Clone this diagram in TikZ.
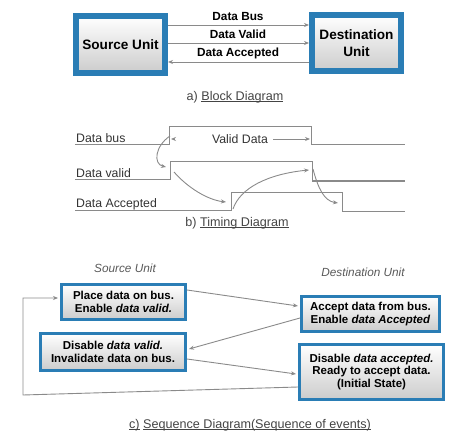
\documentclass[tikz,border=0pt]{standalone}
\usepackage{fontspec}
\setmainfont{Liberation Sans}
\usetikzlibrary{arrows.meta,shadows}
\definecolor{boxblue}{HTML}{2A7DB5}
\definecolor{lgray}{HTML}{8A8A8A}
\definecolor{tgray}{HTML}{333333}
\definecolor{cgray}{HTML}{444444}
\newcommand\uln[1]{\setbox0\hbox{#1}\rlap{\rule[-1.6pt]{\wd0}{0.5pt}}\box0\relax}
\tikzset{
  bigbox/.style={draw=boxblue, line width=6pt, top color=white, bottom color=black!20,
    minimum width=89pt, minimum height=57pt, inner sep=0pt, align=center,
    font=\fontsize{13.6}{16.5}\selectfont\bfseries,
    drop shadow={opacity=0.25, shadow xshift=1pt, shadow yshift=-1.5pt}},
  seqbox/.style={draw=boxblue, line width=3pt, top color=white, bottom color=black!20,
    inner sep=0pt, align=center,
    font=\fontsize{11.5}{12.5}\selectfont\bfseries,
    drop shadow={opacity=0.25, shadow xshift=1pt, shadow yshift=-1.5pt}},
  conn/.style={draw=lgray, line width=0.9pt, -{Stealth[length=5pt,width=4pt]}},
  sig/.style={draw=lgray, line width=1pt},
  blabel/.style={font=\fontsize{11.8}{14}\selectfont\bfseries, inner sep=0pt},
  tlabel/.style={font=\fontsize{12.3}{14}\selectfont, text=tgray, inner sep=0pt},
  caption/.style={font=\fontsize{12.6}{14}\selectfont, text=cgray, inner sep=0pt},
  head/.style={font=\fontsize{11.8}{14}\selectfont\itshape, text=black!65, inner sep=0pt},
}
\begin{document}
\begin{tikzpicture}[x=1pt,y=-1pt]
\useasboundingbox (0,0) rectangle (474,433);
% ---------- a) Block diagram
\node[bigbox] (src) at (120.5,44.5) {Source Unit};
\node[bigbox, minimum height=56pt] (dst) at (356.5,43) {Destination\\Unit};
\draw[conn] (src.east |- 0,25) -- (dst.west |- 0,25);
\draw[conn] (src.east |- 0,43) -- (dst.west |- 0,43);
\draw[conn] (dst.west |- 0,62) -- (src.east |- 0,62);
\node[blabel] (lbus) at (238,17) {Data Bus};
\node[blabel] (lval) at (238,34.5) {Data Valid};
\node[blabel] (lacc) at (238,53.5) {Data Accepted};
\node[caption] (capa) at (235,97) {a) \uln{Block Diagram}};
% ---------- b) Timing diagram
\draw[sig] (75,145) -- (169,145) -- (169,127) -- (311,127) -- (311,145) -- (405,145);
\draw[sig] (75,180) -- (170,180) -- (170,162) -- (312,162) -- (312,181) -- (405,181);
\draw[sig] (75,210) -- (231,210) -- (231,192) -- (342,192) -- (342,211) -- (405,211);
\node[tlabel, anchor=base west] (tbus) at (76,142.5) {Data bus};
\node[tlabel, anchor=base west] (tval) at (76,177.5) {Data valid};
\node[tlabel, anchor=base west] (tacc) at (76,207.5) {Data Accepted};
\node[tlabel] (vd) at (240,139) {Valid Data};
\coordinate (vdl) at (171,139);
\coordinate (vdr) at (310,139);
\draw[conn] ([xshift=-37pt]vd.west) -- (vdl);
\draw[conn] ([xshift=5pt]vd.east) -- (vdr);
\coordinate (e1s) at (170,136);
\coordinate (e1e) at (166,167);
\coordinate (e2s) at (174,172);
\coordinate (e2e) at (226,202);
\coordinate (e3s) at (233,209);
\coordinate (e3e) at (309,170);
\coordinate (e4s) at (313,169);
\coordinate (e4e) at (338,203);
\draw[conn] (e1s) .. controls (155,146) and (153,164) .. (e1e);
\draw[conn] (e2s) .. controls (188,188) and (208,200) .. (e2e);
\draw[conn] (e3s) .. controls (240,188) and (268,174) .. (e3e);
\draw[conn] (e4s) .. controls (318,188) and (324,201) .. (e4e);
\node[caption] (capb) at (237,223) {b) \uln{Timing Diagram}};
% ---------- c) Sequence diagram
\node[head] (hsrc) at (125,268) {Source Unit};
\node[head] (hdst) at (363,272) {Destination Unit};
\node[seqbox, minimum width=124pt, minimum height=35pt] (b1) at (123.5,302)
  {Place data on bus.\\Enable \textit{data valid.}};
\node[seqbox, minimum width=138pt, minimum height=35pt] (b2) at (370.5,314)
  {Accept data from bus.\\Enable \textit{data Accepted}};
\node[seqbox, minimum width=145pt, minimum height=37pt] (b3) at (113,352)
  {Disable \textit{data valid.}\\Invalidate data on bus.};
\node[seqbox, minimum width=144pt, minimum height=55pt] (b4) at (371.5,372)
  {Disable \textit{data accepted.}\\Ready to accept data.\\(Initial State)};
\draw[conn] (b1.east |- 0,290) -- ([xshift=-2pt]b2.west |- 0,306);
\draw[conn] (b2.west |- 0,318) -- ([xshift=2pt]b3.east |- 0,349);
\draw[conn] (b3.east |- 0,359) -- ([xshift=-2pt]b4.west |- 0,374);
\coordinate (lb) at (23,395);
\coordinate (lt) at (23,298);
\draw[conn] (b4.west |- 0,387) -- (lb) -- (lt) -- ([xshift=-2pt]b1.west |- 0,298);
\node[caption] (capc) at (250,425) {\uln{c)}\ \uln{Sequence Diagram(Sequence of events)}};
\end{tikzpicture}
\end{document}
